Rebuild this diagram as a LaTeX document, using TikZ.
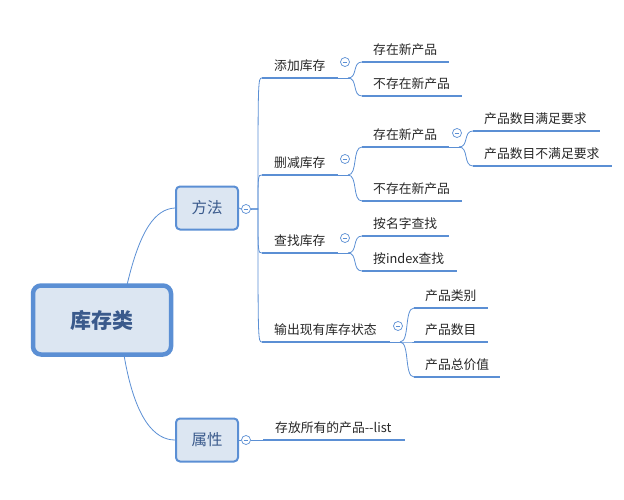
\documentclass[tikz,border=0pt]{standalone}
\usepackage{fontspec}
\setmainfont{Noto Sans CJK SC}
\definecolor{lb}{HTML}{5B8FD4}
\definecolor{fillb}{HTML}{DCE6F2}
\definecolor{tb}{HTML}{3A5A8C}
\begin{document}
\begin{tikzpicture}[x=1pt,y=-1pt,
  thin/.style={draw=lb,line width=0.8pt},
  uline/.style={draw=lb,line width=2.4pt},
  lbl/.style={anchor=south west,inner sep=1pt,font=\fontsize{12.8}{15}\selectfont,text=black!85},
  col/.style={circle,draw=lb,fill=white,line width=0.7pt,minimum size=9pt,inner sep=0pt,
     path picture={\draw[lb,line width=0.7pt] ([xshift=-2.3pt]path picture bounding box.center) -- ([xshift=2.3pt]path picture bounding box.center);}},
  box/.style={draw=lb,fill=fillb,rounded corners=4pt,line width=2pt,font=\fontsize{15.5}{18}\selectfont,text=tb}]
\useasboundingbox (0,0) rectangle (624,500);
% root
\node[box,line width=4.5pt,rounded corners=8pt,minimum width=138pt,minimum height=69pt,
  font=\fontsize{21}{24}\selectfont\bfseries] (root) at (102,320) {库存类};
\node[box,minimum width=62pt,minimum height=43pt] (ff) at (207,208) {方法};
\node[box,minimum width=62pt,minimum height=43pt] (sx) at (207,440) {属性};
\draw[thin] (127,285) .. controls (140,230) and (155,209) .. (ff.west);
\draw[thin] (124,355) .. controls (135,420) and (155,440) .. (sx.west);
\node[col] (c1) at (246,209) {};
\node[col] (c2) at (246,440) {};
\draw[thin] (ff.east) -- (c1.west);
\draw[thin] (sx.east) -- (c2.west);
% level 2 coordinates
\coordinate (a1) at (262,78);  \coordinate (a2) at (338,78);
\coordinate (b1) at (262,175); \coordinate (b2) at (338,175);
\coordinate (d1) at (262,253); \coordinate (d2) at (338,253);
\coordinate (e1) at (262,342); \coordinate (e2) at (390,342);
\coordinate (s1) at (263,440); \coordinate (s2) at (405,440);
\foreach \p/\q/\t in {a1/a2/添加库存,b1/b2/删减库存,d1/d2/查找库存,e1/e2/输出现有库存状态,s1/s2/存放所有的产品{-}{-}list}{
  \draw[uline] (\p) -- (\q);
  \node[lbl] at ([shift={(11,-5)}]\p) {\t};
}
\coordinate (j1) at (251,209);
\coordinate (jj) at (258,209);
\foreach \p in {a1,b1,d1,e1}{
  \draw[thin] (j1) -- (jj) .. controls (\p -| jj) .. (\p);
}
\draw[thin] (c1.east) -- (j1);
\draw[thin] (c2.east) -- (s1);
% collapse circles for level 2
\node[col] (ca) at (345,62) {};
\node[col] (cb) at (345,159) {};
\node[col] (cd) at (345,238) {};
\node[col] (ce) at (398,326) {};
% children helper
\newcommand{\kid}[6]{% start x, y, end x, text, joint x, joint y
  \coordinate (k#4) at (#1,#2);
  \draw[uline] (#1,#2) -- (#3,#2);
  \node[lbl] at (#1+10,#2-5) {#4};
  \draw[thin] (#5,#6) .. controls (#5+10,#6) and (#5+4,#2) .. (k#4);
}
\draw[thin] (a2) -- (350,78);
\kid{362}{62}{449}{存在新产品}{348}{78}
\kid{362}{96}{462}{不存在新产品}{348}{78}
\draw[thin] (b2) -- (350,175);
\kid{362}{147}{449}{存在新产品 }{348}{175}
\kid{362}{201}{462}{不存在新产品 }{348}{175}
\draw[thin] (d2) -- (350,253);
\kid{362}{236}{449}{按名字查找}{348}{253}
\kid{362}{271}{457}{按index查找}{348}{253}
\draw[thin] (e2) -- (402,342);
\kid{414}{308}{488}{产品类别}{400}{342}
\kid{414}{342}{488}{产品数目}{400}{342}
\kid{414}{377}{500}{产品总价值}{400}{342}
\node[col] (cx) at (457,133) {};
\draw[thin] (449,147) -- (461,147);
\kid{473}{131}{600}{产品数目满足要求}{459}{147}
\kid{473}{166}{612}{产品数目不满足要求}{459}{147}
\end{tikzpicture}
\end{document}
